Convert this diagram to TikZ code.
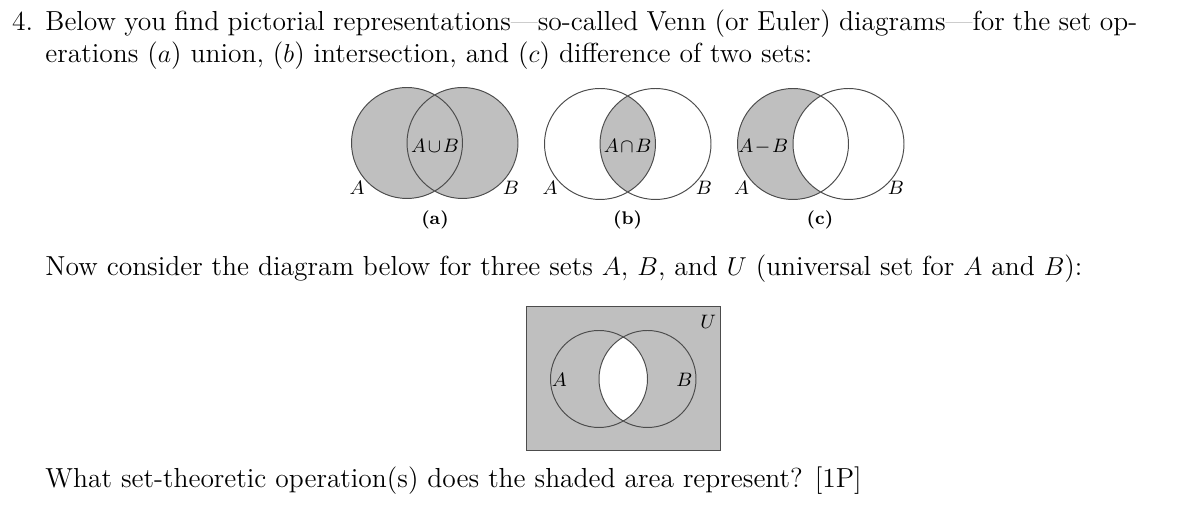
\documentclass[tikz,border=0pt]{standalone}
\begin{document}
\begin{tikzpicture}[x=0.4633pt,y=-0.4633pt,
  txt/.style={anchor=base west,inner sep=0pt,font=\fontsize{12.75}{15}\selectfont},
  lbl/.style={inner sep=0pt,anchor=base,font=\fontsize{9.5}{11}\selectfont},
  subcap/.style={inner sep=0pt,anchor=base,font=\fontsize{8.5}{10}\selectfont\bfseries},
  ring/.style={draw=black!70,line width=0.45pt},
  shade/.style={fill=black!25}]
\useasboundingbox (0,0) rectangle (1181,505);
\def\dsh{{\color{black!35}---}}
% text lines
\node[txt] (num) at (11.7,31) {4.};
\node[txt] (l1) at (45,31) {\makebox[505.9pt][s]{Below you find pictorial representations\dsh so-called Venn (or Euler) diagrams\dsh for the set op-}};
\node[txt] (l2) at (45,62.3) {erations ($a$) union, ($b$) intersection, and ($c$) difference of two sets:};
\node[txt] (l3) at (45,276) {Now consider the diagram below for three sets $A$, $B$, and $U$ (universal set for $A$ and $B$):};
\node[txt] (l4) at (45,488) {What set-theoretic operation(s) does the shaded area represent? [1P]};
% centres
\def\r{55.5}
\coordinate (aA) at (407,143);
\coordinate (aB) at (462.5,143);
\coordinate (bA) at (600,144);
\coordinate (bB) at (655.5,144);
\coordinate (cA) at (793,144);
\coordinate (cB) at (848.5,144);
% (a) union
\fill[shade] (aA) circle[radius=\r] (aB) circle[radius=\r];
\draw[ring] (aA) circle[radius=\r] (aB) circle[radius=\r];
\node[lbl] (aU) at (435,153) {$A\mkern1.5mu{\cup}\mkern1.5mu B$};
\node[lbl] (aLA) at (357,195) {$A$};
\node[lbl] (aLB) at (511,195) {$B$};
\node[subcap] (capa) at (435,225) {(a)};
% (b) intersection
\begin{scope}
\clip (bA) circle[radius=\r];
\fill[shade] (bB) circle[radius=\r];
\end{scope}
\draw[ring] (bA) circle[radius=\r] (bB) circle[radius=\r];
\node[lbl] (bI) at (627.7,153) {$A\mkern1.5mu{\cap}\mkern1.5mu B$};
\node[lbl] (bLA) at (550,195) {$A$};
\node[lbl] (bLB) at (704,195) {$B$};
\node[subcap] (capb) at (627.7,225) {(b)};
% (c) difference
\fill[shade] (cA) circle[radius=\r];
\fill[white] (cB) circle[radius=\r];
\draw[ring] (cA) circle[radius=\r] (cB) circle[radius=\r];
\node[lbl] (cD) at (763.3,153) {$A\mkern1.5mu{-}\mkern1.5mu B$};
\node[lbl] (cLA) at (741.7,195) {$A$};
\node[lbl] (cLB) at (896,195) {$B$};
\node[subcap] (capc) at (820,225) {(c)};
% universe diagram
\def\s{48.5}
\coordinate (uA) at (599,379);
\coordinate (uB) at (647.5,379);
\fill[shade] (526,306) rectangle (720,450);
\begin{scope}
\clip (uA) circle[radius=\s];
\fill[white] (uB) circle[radius=\s];
\end{scope}
\draw[ring] (526,306) rectangle (720,450);
\draw[ring] (uA) circle[radius=\s] (uB) circle[radius=\s];
\node[lbl,anchor=center] (uU) at (708.3,321.7) {$U$};
\node[lbl,anchor=center] (uLA) at (559.3,380) {$A$};
\node[lbl,anchor=center] (uLB) at (684.3,380) {$B$};
\end{tikzpicture}
\end{document}
